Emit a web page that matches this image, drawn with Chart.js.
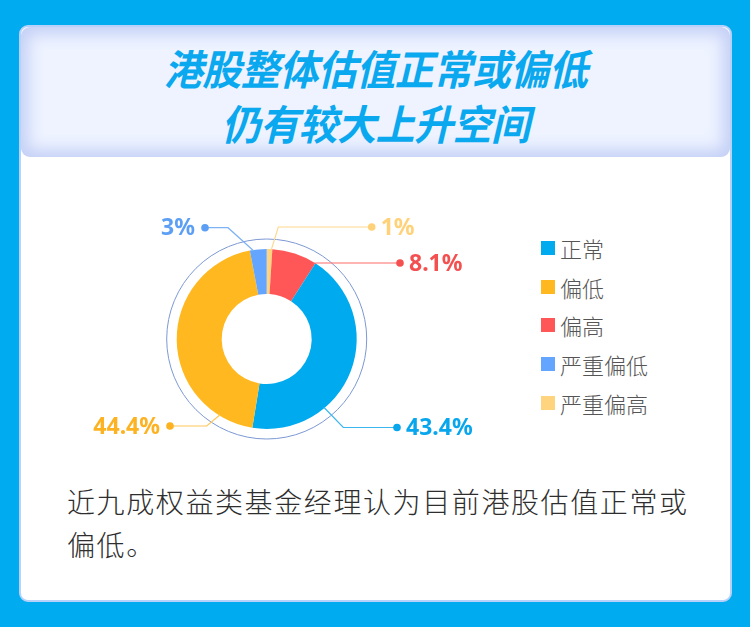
<!DOCTYPE html>
<html>
<head>
<meta charset="utf-8">
<script src="https://cdn.jsdelivr.net/npm/chart.js@4.4.1/dist/chart.umd.min.js"></script>
<style>
  html, body { margin: 0; padding: 0; }
  body {
    width: 750px; height: 627px; overflow: hidden;
    background: #00ABEF; position: relative;
    font-family: "Noto Sans CJK SC", "Noto Sans", sans-serif;
  }
  .card {
    position: absolute; left: 19px; top: 25px; width: 709px; height: 573px;
    background: #fff; border: 2px solid #B7D1FB; border-radius: 9px; overflow: hidden;
  }
  .head {
    position: absolute; left: 0; top: 0; right: 0; height: 130px;
    background: #EEF3FF; border-radius: 9px;
    box-shadow: inset 0 0 16px 7px #C3CFF6;
  }
  .title {
    position: absolute; left: 0; right: 0; text-align: center;
    color: #0AA8EE; font-size: 39px; font-weight: 700; font-style: italic;
    line-height: 51px; top: 17px; letter-spacing: -0.5px;
    transform: scaleY(1.06);
  }
  .note {
    position: absolute; left: 46px; top: 453px; width: 640px;
    font-size: 28px; font-weight: 300; line-height: 43px; color: #2e2e2e; letter-spacing: 1.6px;
  }
  #legend { position: absolute; left: 541px; top: 229px; }
  .row { height: 38.6px; display: flex; align-items: center; font-size: 22px; font-weight: 300; color: #555; }
  .box { width: 14px; height: 14px; margin-right: 5px; }
  #wrap { position: absolute; left: 40px; top: 190px; width: 480px; height: 280px; }
</style>
</head>
<body>
<div class="card">
  <div class="head"></div>
  <div class="title">港股整体估值正常或偏低<br>仍有较大上升空间</div>
  <div class="note">近九成权益类基金经理认为目前港股估值正常或偏低。</div>
</div>
<div id="wrap"><canvas id="pie" width="480" height="280"></canvas></div>
<div id="legend"></div>

<script>
// Slices, clockwise from the top
const categories = ['严重偏高', '偏高', '正常', '偏低', '严重偏低'];
const shares = [1, 8.1, 43.4, 44.4, 3];
const sliceColors = ['#FFD47E', '#FF5757', '#00AAEE', '#FFB820', '#64A6FF'];
const labelColors = ['#FFD27A', '#F55050', '#08A6EC', '#FDB222', '#5C9FF5'];
const lineColors = ['#FFD98F', '#FF6B6B', '#3BB6EE', '#FFC757', '#7DB2F5'];
// legend lists them in this order
const legendOrder = ['正常', '偏低', '偏高', '严重偏低', '严重偏高'];

// Leader line layout, relative to the doughnut centre
const leaders = [
    { t: 0.8, elbowX: 11.6, y: -112, dotX: 105 },
    { t: 0.97, elbowX: 50, y: -76, dotX: 133.3 },
    { t: 0.686, elbowX: 76.6, y: 88.5, dotX: 130.3 },
    { t: 0.14, elbowX: -60, y: 87, dotX: -96.7 },
    { t: 0.23, elbowX: -38.7, y: -111.3, dotX: -61.7 }
];

// Build the legend
const legend = document.getElementById('legend');
legendOrder.forEach(name => {
    const i = categories.indexOf(name);
    const row = document.createElement('div');
    row.className = 'row';
    row.innerHTML = `<span class="box" style="background:${sliceColors[i]}"></span><span>${name}</span>`;
    legend.appendChild(row);
});

// Outer ring and leader labels
const leaderPlugin = {
    id: 'leaders',
    afterDatasetsDraw(chart) {
        const ctx = chart.ctx;
        const arcs = chart.getDatasetMeta(0).data;
        if (!arcs.length) return;
        const cx = arcs[0].x;
        const cy = arcs[0].y;
        const outer = arcs[0].outerRadius;

        ctx.save();
        ctx.beginPath();
        ctx.arc(cx, cy, outer + 10, 0, Math.PI * 2);
        ctx.strokeStyle = '#7C98D4';
        ctx.lineWidth = 1;
        ctx.stroke();

        arcs.forEach((arc, i) => {
            const l = leaders[i];
            const a = arc.startAngle + (arc.endAngle - arc.startAngle) * l.t;
            const ax = cx + Math.cos(a) * (outer - 1);
            const ay = cy + Math.sin(a) * (outer - 1);
            const ex = cx + l.elbowX;
            const ly = cy + l.y;
            const dx = cx + l.dotX;

            ctx.beginPath();
            ctx.moveTo(ax, ay);
            ctx.lineTo(ex, ly);
            ctx.lineTo(dx, ly);
            ctx.strokeStyle = lineColors[i];
            ctx.lineWidth = 1.2;
            ctx.stroke();

            ctx.beginPath();
            ctx.arc(dx, ly, 3.8, 0, Math.PI * 2);
            ctx.fillStyle = labelColors[i];
            ctx.fill();

            const right = l.dotX > 0;
            ctx.font = 'bold 23px "Noto Sans", "Noto Sans CJK SC", sans-serif';
            ctx.textBaseline = 'middle';
            ctx.textAlign = right ? 'left' : 'right';
            ctx.fillStyle = labelColors[i];
            ctx.fillText(shares[i] + '%', right ? dx + 9 : dx - 10, ly + 1);
        });
        ctx.restore();
    }
};

new Chart(document.getElementById('pie'), {
    type: 'doughnut',
    data: {
        labels: categories,
        datasets: [{
            data: shares,
            backgroundColor: sliceColors,
            borderWidth: 0,
            radius: 90,
            cutout: 45
        }]
    },
    options: {
        responsive: false,
        animation: false,
        rotation: 0,
        layout: {
            padding: { left: 136.7, right: 163.3, top: 59, bottom: 41 }
        },
        plugins: {
            legend: { display: false },
            tooltip: { enabled: false }
        }
    },
    plugins: [leaderPlugin]
});
</script>
</body>
</html>
